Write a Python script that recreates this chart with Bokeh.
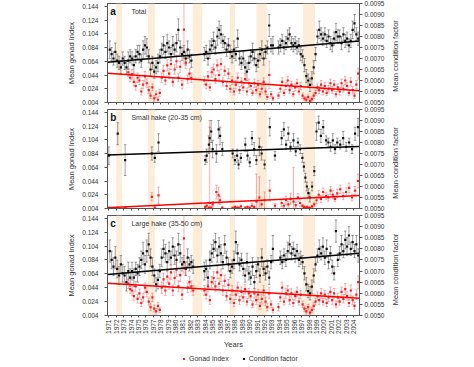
import math
from bokeh.plotting import figure
from bokeh.models import (Range1d, LinearAxis, FixedTicker, NumeralTickFormatter,
                          Whisker, TeeHead, ColumnDataSource, BoxAnnotation,
                          Legend, LegendItem, Label)
from bokeh.layouts import column, row
from bokeh.embed import file_html
from bokeh.resources import INLINE

nan = float("nan")
FONT = "Liberation Sans"

# ---------------- data ----------------
years = list(range(1971, 2005))
quarter_pos = [0.125, 0.375, 0.625, 0.875]
gi_ticks = [0.004, 0.024, 0.044, 0.064, 0.084, 0.104, 0.124, 0.144]
cf_ticks = [0.0050, 0.0055, 0.0060, 0.0065, 0.0070, 0.0075, 0.0080, 0.0085, 0.0090, 0.0095]

enso_start = [1972.0, 1976.3, 1982.3, 1987.3, 1990.9, 1997.2]
enso_end = [1972.8, 1977.2, 1983.6, 1988.0, 1992.3, 1998.8]

# Panel a: Total (quarterly, 1971-2004)
cf_total = [
    0.0074, 0.0072, 0.0070, 0.0073,  0.0069, 0.0068, 0.0066, 0.0070,
    0.0068, 0.0066, 0.0069, 0.0071,  0.0070, 0.0067, 0.0071, 0.0073,
    0.0072, 0.0069, 0.0074, 0.0076,  0.0075, 0.0071, 0.0065, 0.0068,
    0.0064, 0.0066, 0.0068, 0.0071,  0.0074, 0.0076, 0.0073, 0.0077,
    0.0075, 0.0072, 0.0076, 0.0074,  0.0077, 0.0083, 0.0075, 0.0072,
    0.0073, 0.0070, 0.0074, 0.0071,  0.0069, nan, nan, nan,
    nan, nan, nan, 0.0072,           0.0073, 0.0070, 0.0074, 0.0076,
    0.0078, 0.0075, 0.0080, 0.0083,  0.0081, 0.0078, 0.0077, 0.0074,
    0.0076, 0.0073, 0.0071, 0.0074,  0.0072, 0.0079, 0.0070, 0.0068,
    0.0070, 0.0066, 0.0064, 0.0068,  0.0071, 0.0073, 0.0070, 0.0067,
    0.0069, 0.0072, 0.0074, 0.0070,  0.0073, 0.0075, 0.0085, 0.0076,
    0.0076, nan, nan, 0.0075,        0.0076, 0.0078, 0.0075, 0.0077,
    0.0079, 0.0081, 0.0077, 0.0076,  0.0077, 0.0075, 0.0076, 0.0072,
    0.0071, 0.0067, 0.0062, 0.0060,  0.0058, 0.0061, 0.0066, 0.0072,
    0.0080, 0.0083, 0.0081, 0.0079,  0.0081, 0.0078, 0.0080, 0.0077,
    0.0076, 0.0079, 0.0082, 0.0080,  0.0080, 0.0077, 0.0081, 0.0078,
    0.0079, 0.0076, 0.0078, 0.0083,  0.0086, 0.0081, 0.0079, 0.0084,
]
cf_total_err = [
    0.0004, 0.0003, 0.0003, 0.0004,  0.0003, 0.0003, 0.0003, 0.0003,
    0.0003, 0.0003, 0.0004, 0.0003,  0.0003, 0.0004, 0.0003, 0.0003,
    0.0004, 0.0003, 0.0004, 0.0004,  0.0004, 0.0003, 0.0003, 0.0003,
    0.0003, 0.0003, 0.0004, 0.0003,  0.0003, 0.0004, 0.0003, 0.0004,
    0.0003, 0.0003, 0.0004, 0.0003,  0.0004, 0.0005, 0.0003, 0.0003,
    0.0003, 0.0003, 0.0004, 0.0003,  0.0003, 0.0, 0.0, 0.0,
    0.0, 0.0, 0.0, 0.0003,           0.0003, 0.0003, 0.0004, 0.0003,
    0.0004, 0.0003, 0.0004, 0.0004,  0.0004, 0.0003, 0.0003, 0.0003,
    0.0003, 0.0003, 0.0003, 0.0004,  0.0003, 0.0004, 0.0003, 0.0003,
    0.0003, 0.0003, 0.0004, 0.0003,  0.0003, 0.0004, 0.0003, 0.0003,
    0.0003, 0.0003, 0.0004, 0.0003,  0.0003, 0.0003, 0.0005, 0.0003,
    0.0004, 0.0, 0.0, 0.0003,        0.0003, 0.0003, 0.0003, 0.0003,
    0.0004, 0.0003, 0.0003, 0.0003,  0.0003, 0.0003, 0.0003, 0.0003,
    0.0003, 0.0003, 0.0003, 0.0003,  0.0003, 0.0003, 0.0003, 0.0003,
    0.0003, 0.0004, 0.0003, 0.0003,  0.0003, 0.0003, 0.0003, 0.0003,
    0.0003, 0.0003, 0.0004, 0.0003,  0.0003, 0.0003, 0.0003, 0.0003,
    0.0003, 0.0003, 0.0003, 0.0004,  0.0004, 0.0003, 0.0003, 0.0004,
]
gi_total = [
    nan, nan, nan, nan,              nan, nan, nan, nan,
    nan, nan, 0.048, 0.040,          0.045, 0.034, 0.028, 0.040,
    0.036, 0.020, 0.030, 0.042,      0.032, 0.022, 0.014, 0.026,
    0.010, 0.016, 0.008, 0.018,      0.040, 0.050, 0.036, 0.058,
    0.046, 0.060, 0.034, 0.052,      0.064, 0.040, 0.056, 0.030,
    0.110, 0.062, 0.038, 0.046,      0.040, nan, nan, nan,
    nan, nan, nan, 0.036,            0.030, 0.042, 0.026, 0.048,
    0.052, 0.038, 0.058, 0.044,      0.060, 0.034, 0.050, 0.028,
    0.046, 0.024, 0.036, 0.020,      0.030, 0.040, 0.022, 0.034,
    0.026, 0.038, 0.020, 0.032,      0.028, 0.018, 0.032, 0.022,
    0.030, 0.016, 0.024, 0.034,      0.020, 0.012, 0.044, 0.016,
    0.010, nan, nan, 0.014,          0.024, 0.034, 0.018, 0.028,
    0.036, 0.022, 0.030, 0.016,      0.026, 0.032, 0.020, 0.028,
    0.014, 0.010, 0.008, 0.012,      0.006, 0.009, 0.014, 0.018,
    0.026, 0.022, 0.030, 0.020,      0.028, 0.018, 0.024, 0.032,
    0.022, 0.030, 0.016, 0.026,      0.020, 0.032, 0.024, 0.036,
    0.028, 0.018, 0.034, 0.022,      0.014, 0.030, 0.046, 0.040,
]
gi_total_err = [
    0, 0, 0, 0,                      0, 0, 0, 0,
    0, 0, 0.006, 0.006,              0.007, 0.006, 0.006, 0.007,
    0.006, 0.005, 0.006, 0.007,      0.006, 0.005, 0.004, 0.005,
    0.004, 0.005, 0.004, 0.005,      0.007, 0.008, 0.006, 0.008,
    0.007, 0.008, 0.006, 0.007,      0.009, 0.006, 0.008, 0.006,
    0.050, 0.009, 0.006, 0.007,      0.007, 0, 0, 0,
    0, 0, 0, 0.006,                  0.006, 0.007, 0.005, 0.007,
    0.008, 0.006, 0.008, 0.007,      0.008, 0.006, 0.007, 0.005,
    0.007, 0.005, 0.006, 0.005,      0.006, 0.007, 0.005, 0.006,
    0.005, 0.006, 0.005, 0.006,      0.005, 0.004, 0.006, 0.005,
    0.006, 0.004, 0.005, 0.006,      0.005, 0.004, 0.020, 0.004,
    0.003, 0, 0, 0.004,              0.005, 0.006, 0.004, 0.005,
    0.006, 0.005, 0.005, 0.004,      0.005, 0.006, 0.004, 0.005,
    0.004, 0.003, 0.003, 0.003,      0.002, 0.003, 0.004, 0.004,
    0.005, 0.005, 0.006, 0.005,      0.005, 0.004, 0.005, 0.006,
    0.005, 0.006, 0.004, 0.005,      0.005, 0.006, 0.005, 0.006,
    0.005, 0.004, 0.006, 0.005,      0.004, 0.006, 0.008, 0.007,
]

# Panel b: Small hake (20-35 cm), irregular sampling
small_x = [
    1971.0, 1972.2, 1973.2, 1976.8, 1977.2, 1977.7,
    1984.0, 1984.2, 1984.5, 1984.6, 1984.8, 1985.0, 1985.5, 1985.8, 1986.0, 1986.3,
    1987.7, 1988.0, 1988.3, 1988.5, 1988.8,
    1989.4, 1989.7, 1990.0,
    1990.3, 1990.6, 1990.9, 1991.3, 1991.6, 1992.0,
    1992.7, 1993.4,
    1994.3, 1994.6, 1994.9, 1995.2, 1995.5, 1995.9, 1996.2, 1996.5, 1996.8,
    1997.1, 1997.3, 1997.5, 1997.7, 1997.9, 1998.1, 1998.4, 1998.7,
    1999.0, 1999.3, 1999.6, 1999.9, 2000.3,
    2000.6, 2000.9, 2001.2, 2001.5, 2001.8, 2002.2, 2002.6, 2003.0, 2003.4, 2003.8, 2004.2, 2004.6,
]
cf_small = [
    0.0074, 0.0084, 0.0072, 0.0075, 0.0073, 0.0080,
    0.0072, 0.0074, 0.0079, 0.0082, 0.0085, 0.0077, 0.0075, 0.0086, 0.0083, 0.0077,
    0.0075, 0.0072, 0.0074, 0.0070, 0.0073,
    0.0079, 0.0074, 0.0071,
    0.0082, 0.0077, 0.0072, 0.0078, 0.0075, 0.0070,
    0.0087, 0.0074,
    0.0082, 0.0086, 0.0079, 0.0084, 0.0078, 0.0081, 0.0076, 0.0080, 0.0077,
    0.0073, 0.0069, 0.0064, 0.0060, 0.0057, 0.0055, 0.0060, 0.0067,
    0.0085, 0.0089, 0.0083, 0.0087, 0.0081,
    0.0080, 0.0078, 0.0081, 0.0077, 0.0080, 0.0079, 0.0082, 0.0078, 0.0080, 0.0077, 0.0084, 0.0087,
]
cf_small_err = [
    0.0004, 0.0005, 0.0007, 0.0003, 0.0002, 0.0004,
    0.0002, 0.0003, 0.0004, 0.0005, 0.0005, 0.0004, 0.0004, 0.0004, 0.0004, 0.0003,
    0.0002, 0.0002, 0.0003, 0.0002, 0.0002,
    0.0003, 0.0002, 0.0002,
    0.0003, 0.0003, 0.0002, 0.0004, 0.0003, 0.0002,
    0.0004, 0.0002,
    0.0003, 0.0003, 0.0002, 0.0003, 0.0002, 0.0003, 0.0002, 0.0002, 0.0002,
    0.0002, 0.0002, 0.0002, 0.0002, 0.0002, 0.0002, 0.0002, 0.0002,
    0.0004, 0.0003, 0.0003, 0.0003, 0.0002,
    0.0002, 0.0002, 0.0003, 0.0002, 0.0002, 0.0002, 0.0003, 0.0002, 0.0002, 0.0002, 0.0003, 0.0004,
]
gi_small = [
    0.005, 0.005, 0.005, 0.021, 0.005, 0.023,
    0.006, 0.008, 0.005, 0.012, 0.005, 0.010, 0.028, 0.023, 0.016, 0.005,
    0.005, 0.006, 0.005, 0.005, 0.007,
    0.005, 0.006, 0.005,
    0.008, 0.006, 0.014, 0.020, 0.010, 0.016,
    0.030, 0.008,
    0.012, 0.008, 0.016, 0.010, 0.018, 0.014, 0.009, 0.020, 0.012,
    0.008, 0.006, 0.005, 0.006, 0.005, 0.005, 0.007, 0.010,
    0.016, 0.024, 0.018, 0.028, 0.022,
    0.020, 0.030, 0.024, 0.018, 0.026, 0.032, 0.022, 0.028, 0.034, 0.020, 0.030, 0.044,
]
gi_small_err = [
    0.001, 0.001, 0.001, 0.006, 0.002, 0.012,
    0.002, 0.003, 0.002, 0.120, 0.002, 0.004, 0.010, 0.012, 0.006, 0.002,
    0.001, 0.002, 0.001, 0.001, 0.002,
    0.002, 0.002, 0.001,
    0.004, 0.003, 0.040, 0.030, 0.006, 0.012,
    0.015, 0.003,
    0.005, 0.003, 0.006, 0.004, 0.008, 0.050, 0.004, 0.006, 0.005,
    0.002, 0.002, 0.001, 0.002, 0.001, 0.001, 0.002, 0.003,
    0.005, 0.006, 0.005, 0.006, 0.005,
    0.005, 0.006, 0.006, 0.004, 0.006, 0.006, 0.005, 0.006, 0.007, 0.005, 0.006, 0.010,
]

# Panel c: Large hake (35-50 cm), quarterly
cf_large = [
    0.0079, 0.0075, 0.0072, 0.0076,  0.0071, 0.0068, 0.0073, 0.0069,
    0.0068, 0.0065, 0.0070, 0.0067,  0.0070, 0.0067, 0.0071, 0.0069,
    0.0072, 0.0075, 0.0078, 0.0073,  0.0079, 0.0082, 0.0076, 0.0072,
    0.0068, 0.0064, 0.0066, 0.0070,  0.0076, 0.0080, 0.0078, 0.0074,
    0.0079, 0.0076, 0.0081, 0.0077,  0.0075, 0.0082, 0.0078, 0.0073,
    0.0074, 0.0071, 0.0076, 0.0073,  0.0074, 0.0072, nan, nan,
    nan, nan, nan, 0.0070,           0.0071, 0.0067, 0.0075, 0.0078,
    0.0080, 0.0083, 0.0077, 0.0081,  0.0078, 0.0074, 0.0082, 0.0076,
    0.0073, 0.0070, 0.0072, 0.0075,  0.0083, 0.0078, 0.0073, 0.0075,
    0.0071, 0.0068, 0.0074, 0.0069,  0.0067, 0.0072, 0.0065, 0.0070,
    0.0073, 0.0068, 0.0076, 0.0071,  0.0069, 0.0072, 0.0067, 0.0074,
    0.0080, nan, nan, nan,           0.0076, 0.0074, 0.0077, 0.0075,
    0.0079, 0.0082, 0.0078, 0.0080,  0.0077, 0.0079, 0.0075, 0.0076,
    0.0074, 0.0069, 0.0064, 0.0061,  0.0060, 0.0063, 0.0068, 0.0073,
    0.0077, 0.0080, 0.0078, 0.0081,  0.0076, 0.0080, 0.0074, 0.0078,
    0.0072, 0.0069, 0.0088, 0.0075,  0.0078, 0.0082, 0.0079, 0.0084,
    0.0081, 0.0086, 0.0080, 0.0083,  0.0079, 0.0082, 0.0077, 0.0080,
]
cf_large_err = [
    0.0005, 0.0004, 0.0004, 0.0005,  0.0004, 0.0004, 0.0004, 0.0004,
    0.0004, 0.0004, 0.0004, 0.0004,  0.0004, 0.0004, 0.0003, 0.0004,
    0.0004, 0.0004, 0.0005, 0.0004,  0.0005, 0.0005, 0.0004, 0.0004,
    0.0003, 0.0003, 0.0004, 0.0003,  0.0004, 0.0004, 0.0004, 0.0004,
    0.0004, 0.0003, 0.0004, 0.0004,  0.0004, 0.0005, 0.0004, 0.0003,
    0.0003, 0.0003, 0.0004, 0.0003,  0.0003, 0.0003, 0.0, 0.0,
    0.0, 0.0, 0.0, 0.0004,           0.0004, 0.0003, 0.0004, 0.0004,
    0.0004, 0.0004, 0.0003, 0.0004,  0.0004, 0.0003, 0.0004, 0.0003,
    0.0003, 0.0003, 0.0003, 0.0004,  0.0005, 0.0004, 0.0003, 0.0003,
    0.0003, 0.0003, 0.0004, 0.0003,  0.0003, 0.0004, 0.0003, 0.0003,
    0.0003, 0.0003, 0.0004, 0.0003,  0.0003, 0.0003, 0.0003, 0.0003,
    0.0006, 0.0, 0.0, 0.0,           0.0003, 0.0003, 0.0003, 0.0003,
    0.0004, 0.0004, 0.0003, 0.0003,  0.0003, 0.0003, 0.0003, 0.0003,
    0.0003, 0.0003, 0.0003, 0.0003,  0.0003, 0.0003, 0.0003, 0.0003,
    0.0003, 0.0004, 0.0003, 0.0004,  0.0003, 0.0004, 0.0003, 0.0003,
    0.0003, 0.0003, 0.0005, 0.0003,  0.0003, 0.0004, 0.0003, 0.0004,
    0.0004, 0.0004, 0.0003, 0.0003,  0.0003, 0.0004, 0.0003, 0.0003,
]
gi_large = [
    nan, nan, nan, nan,              nan, nan, nan, nan,
    nan, nan, 0.050, 0.042,          0.040, 0.032, 0.046, 0.028,
    0.036, 0.022, 0.030, 0.044,      0.038, 0.024, 0.016, 0.030,
    0.014, 0.010, 0.018, 0.012,      0.044, 0.056, 0.040, 0.060,
    0.050, 0.066, 0.040, 0.058,      0.070, 0.046, 0.062, 0.034,
    0.115, 0.072, 0.044, 0.052,      0.046, 0.040, nan, nan,
    nan, nan, nan, 0.040,            0.034, 0.046, 0.026, 0.052,
    0.058, 0.046, 0.066, 0.050,      0.062, 0.040, 0.054, 0.032,
    0.048, 0.028, 0.040, 0.022,      0.034, 0.044, 0.026, 0.038,
    0.030, 0.042, 0.024, 0.036,      0.032, 0.020, 0.036, 0.026,
    0.034, 0.018, 0.028, 0.040,      0.024, 0.016, 0.036, 0.020,
    0.012, nan, nan, 0.016,          0.030, 0.044, 0.024, 0.036,
    0.040, 0.026, 0.036, 0.022,      0.032, 0.038, 0.024, 0.034,
    0.020, 0.014, 0.010, 0.016,      0.008, 0.012, 0.018, 0.024,
    0.032, 0.026, 0.036, 0.024,      0.034, 0.022, 0.030, 0.038,
    0.026, 0.036, 0.020, 0.030,      0.024, 0.038, 0.028, 0.042,
    0.032, 0.022, 0.040, 0.026,      0.018, 0.034, 0.052, 0.046,
]
gi_large_err = [
    0, 0, 0, 0,                      0, 0, 0, 0,
    0, 0, 0.007, 0.006,              0.007, 0.006, 0.007, 0.006,
    0.006, 0.005, 0.006, 0.007,      0.007, 0.005, 0.005, 0.006,
    0.005, 0.004, 0.005, 0.004,      0.008, 0.009, 0.007, 0.009,
    0.008, 0.010, 0.007, 0.009,      0.010, 0.008, 0.009, 0.007,
    0.050, 0.010, 0.007, 0.008,      0.008, 0.007, 0, 0,
    0, 0, 0, 0.007,                  0.006, 0.008, 0.006, 0.008,
    0.009, 0.007, 0.009, 0.008,      0.009, 0.007, 0.008, 0.006,
    0.008, 0.006, 0.007, 0.005,      0.007, 0.008, 0.006, 0.007,
    0.006, 0.007, 0.005, 0.007,      0.006, 0.005, 0.007, 0.006,
    0.007, 0.005, 0.006, 0.007,      0.006, 0.005, 0.008, 0.005,
    0.004, 0, 0, 0.005,              0.006, 0.008, 0.005, 0.007,
    0.007, 0.006, 0.007, 0.005,      0.006, 0.007, 0.005, 0.006,
    0.005, 0.004, 0.004, 0.004,      0.003, 0.004, 0.005, 0.005,
    0.006, 0.006, 0.007, 0.005,      0.006, 0.005, 0.006, 0.007,
    0.006, 0.007, 0.005, 0.006,      0.005, 0.007, 0.006, 0.008,
    0.006, 0.005, 0.008, 0.006,      0.005, 0.007, 0.009, 0.008,
]

# Linear trends (value at start / end of the record)
trend_x = [1970.82, 2004.8]
cf_trend_total = [0.00683, 0.00780]
gi_trend_total = [0.0466, 0.0210]
cf_trend_small = [0.00743, 0.00782]
gi_trend_small = [0.0050, 0.0230]
cf_trend_large = [0.00685, 0.00780]
gi_trend_large = [0.0505, 0.0290]

legend_labels = ["Gonad index", "Condition factor"]
right_title = "Mean condition factor"

x_quarterly = [y + q for y in years for q in quarter_pos]

# ---------------- styling helpers ----------------
RED = "#ff1a1a"
RED_ERR = "#ff5a5a"
BLACK = "#111111"
BLACK_ERR = "#444444"
AXIS_COL = "#555555"
TXT = "#333333"
LEFT_B = 107
RIGHT_B = 30
TITLE_W = 16
FIG_W = LEFT_B + 252 + RIGHT_B + TITLE_W


def style_axis(ax):
    ax.axis_line_color = AXIS_COL
    ax.major_tick_line_color = AXIS_COL
    ax.major_tick_out = 3
    ax.major_tick_in = 0
    ax.minor_tick_line_color = None
    ax.major_label_text_font = FONT
    ax.major_label_text_font_size = "6.5px"
    ax.major_label_text_color = TXT
    ax.axis_label_text_font = FONT
    ax.axis_label_text_font_size = "7.5px"
    ax.axis_label_text_font_style = "normal"
    ax.axis_label_text_color = TXT


def make_source(xs, vs, es):
    d = dict(x=[], y=[], lo=[], hi=[])
    for x, v, e in zip(xs, vs, es):
        if not math.isnan(v):
            d["x"].append(x)
            d["y"].append(v)
            d["lo"].append(v - e)
            d["hi"].append(v + e)
    return ColumnDataSource(d)


def panel(xs, cf, cf_err, gi, gi_err, cf_tr, gi_tr, letter, title, last, top, fh, bottom):
    p = figure(frame_width=252, frame_height=fh,
               x_range=Range1d(1970.82, 2004.8), y_range=Range1d(0.004, 0.148),
               output_backend="svg", toolbar_location=None,
               min_border_left=LEFT_B, min_border_right=RIGHT_B,
               min_border_top=top, min_border_bottom=bottom,
               background_fill_color="white", border_fill_color="white",
               outline_line_color=AXIS_COL)
    p.extra_y_ranges = {"cf": Range1d(0.0050, 0.0095)}
    p.xgrid.visible = False
    p.ygrid.visible = False

    for s, e in zip(enso_start, enso_end):
        p.add_layout(BoxAnnotation(left=s, right=e, fill_color="#fcecd8",
                                   fill_alpha=1.0, line_color=None, level="underlay"))

    # condition factor (right axis)
    s_cf = make_source(xs, cf, cf_err)
    p.add_layout(Whisker(source=s_cf, base="x", lower="lo", upper="hi", y_range_name="cf",
                         line_color=BLACK_ERR, line_width=0.5,
                         upper_head=TeeHead(size=2.5, line_color=BLACK_ERR, line_width=0.5),
                         lower_head=TeeHead(size=2.5, line_color=BLACK_ERR, line_width=0.5)))
    p.scatter("x", "y", source=s_cf, y_range_name="cf", marker="square",
              size=2.2, fill_color=BLACK, line_color=None)

    # gonad index (left axis)
    s_gi = make_source(xs, gi, gi_err)
    p.add_layout(Whisker(source=s_gi, base="x", lower="lo", upper="hi",
                         line_color=RED_ERR, line_width=0.5,
                         upper_head=TeeHead(size=2.5, line_color=RED_ERR, line_width=0.5),
                         lower_head=TeeHead(size=2.5, line_color=RED_ERR, line_width=0.5)))
    p.scatter("x", "y", source=s_gi, marker="square",
              size=2.2, fill_color=RED, line_color=None)

    p.line(trend_x, cf_tr, y_range_name="cf", line_color="black", line_width=1.5)
    p.line(trend_x, gi_tr, line_color="#ff0000", line_width=1.5)

    # axes
    yl = p.yaxis[0]
    style_axis(yl)
    yl.ticker = FixedTicker(ticks=gi_ticks)
    yl.formatter = NumeralTickFormatter(format="0.000")
    yl.axis_label = "Mean gonad Index"
    yl.major_label_standoff = 6
    yl.axis_label_standoff = 3

    yr = LinearAxis(y_range_name="cf", ticker=FixedTicker(ticks=cf_ticks),
                    formatter=NumeralTickFormatter(format="0.0000"))
    style_axis(yr)
    yr.major_label_standoff = 2
    p.add_layout(yr, "right")

    xa = p.xaxis[0]
    style_axis(xa)
    xa.ticker = FixedTicker(ticks=years)
    xa.major_tick_out = 2
    if last:
        xa.major_label_orientation = math.pi / 2
        xa.major_label_standoff = 2
        xa.axis_label = "Years"
        xa.axis_label_standoff = 3
    else:
        xa.major_label_overrides = {y: "" for y in years}
        xa.major_label_standoff = 0

    p.add_layout(Label(x=1971.2, y=0.137, text=letter, text_font=FONT,
                       text_font_size="10px", text_font_style="bold",
                       text_baseline="middle", text_color="#111"))
    p.add_layout(Label(x=1974.05, y=0.136, text=title, text_font=FONT,
                       text_font_size="7px", text_baseline="middle", text_color=TXT))

    # right-hand axis title, read bottom-to-top as in the original
    t = figure(frame_width=TITLE_W, frame_height=top + fh,
               x_range=Range1d(0, 1), y_range=Range1d(0, top + fh),
               output_backend="svg", toolbar_location=None, min_border=0,
               outline_line_color=None, background_fill_color="white",
               border_fill_color="white")
    t.axis.visible = False
    t.grid.visible = False
    t.add_layout(Label(x=0.35, y=fh / 2.0, text=right_title, angle=math.pi / 2,
                       text_font=FONT, text_font_size="7.5px", text_color=TXT,
                       text_align="center", text_baseline="middle"))
    return row(p, t, spacing=0)


pa = panel(x_quarterly, cf_total, cf_total_err, gi_total, gi_total_err,
           cf_trend_total, gi_trend_total, "a", "Total", False, 3, 99, 3)
pb = panel(small_x, cf_small, cf_small_err, gi_small, gi_small_err,
           cf_trend_small, gi_trend_small, "b", "Small hake (20-35 cm)", False, 4, 99, 3)
pc = panel(x_quarterly, cf_large, cf_large_err, gi_large, gi_large_err,
           cf_trend_large, gi_trend_large, "c", "Large hake (35-50 cm)", True, 4, 100, 0)

# legend strip below the panels
pl = figure(frame_width=FIG_W, frame_height=13, x_range=Range1d(0, 1), y_range=Range1d(0, 1),
            output_backend="svg", toolbar_location=None, min_border=0,
            outline_line_color=None, background_fill_color="white", border_fill_color="white")
pl.axis.visible = False
pl.grid.visible = False
lr_gi = pl.scatter("x", "y", source=ColumnDataSource(dict(x=[nan], y=[nan])), marker="square",
                   size=3, fill_color=RED, line_color=None)
lr_cf = pl.scatter("x", "y", source=ColumnDataSource(dict(x=[nan], y=[nan])), marker="square",
                   size=3, fill_color=BLACK, line_color=None)
legend = Legend(items=[LegendItem(label=legend_labels[0], renderers=[lr_gi], index=0),
                       LegendItem(label=legend_labels[1], renderers=[lr_cf], index=0)],
                orientation="horizontal", location=(181, 2),
                margin=0, padding=0, spacing=12, glyph_width=5, glyph_height=5,
                label_height=8, label_standoff=3,
                label_text_font=FONT, label_text_font_size="7px", label_text_color=TXT,
                border_line_color=None, background_fill_alpha=0)
pl.add_layout(legend, "center")

layout = column(pa, pb, pc, pl, spacing=0)
open("out.html", "w").write(file_html(layout, INLINE))
